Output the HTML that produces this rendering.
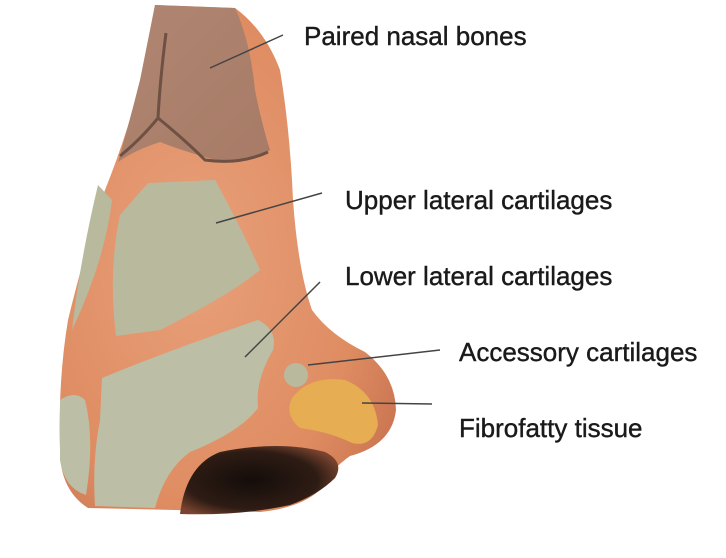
<!DOCTYPE html>
<html><head><style>
html,body{margin:0;padding:0;background:#fff;}
.t{font-family:"Liberation Sans",sans-serif;font-size:26px;fill:#1a1a1a;stroke:#1a1a1a;stroke-width:0.4px;}
</style></head><body>
<svg width="726" height="553" viewBox="0 0 726 553" xmlns="http://www.w3.org/2000/svg">
<defs>
<radialGradient id="sk" cx="0.4" cy="0.5" r="0.7">
<stop offset="0" stop-color="#e8a07a"/><stop offset="0.7" stop-color="#df8c62"/><stop offset="1" stop-color="#c97450"/>
</radialGradient>
<linearGradient id="bn" x1="0" y1="0" x2="1" y2="1">
<stop offset="0" stop-color="#b08672"/><stop offset="1" stop-color="#a77b66"/>
</linearGradient>
<radialGradient id="nos" cx="0.45" cy="0.5" r="0.6">
<stop offset="0" stop-color="#140d0a"/><stop offset="0.7" stop-color="#2e1c14"/><stop offset="1" stop-color="#7a4430"/>
</radialGradient>
</defs>
<path d="M155,5 L235,8 Q265,30 280,70 Q290,130 293,200 Q298,270 312,310 Q330,335 365,352 Q395,375 396,410 Q392,445 350,456 Q330,470 320,490 Q300,508 260,512 L88,508 Q60,490 60,450 Q58,380 68,320 Q85,250 105,190 Q125,140 140,85 Z" fill="url(#sk)"/>
<path d="M155,5 L235,8 Q250,40 255,90 Q262,125 270,150 Q250,165 215,160 Q180,150 160,142 Q135,150 118,162 Q130,120 140,80 Z" fill="url(#bn)"/>
<path d="M166,33 Q160,80 158,118 Q140,140 120,156 M158,118 Q185,140 205,160 Q240,165 268,152" fill="none" stroke="#6e5144" stroke-width="3"/>
<path d="M148,183 L215,180 Q240,225 260,270 Q230,295 160,330 L116,336 Q108,270 120,215 Z" fill="#b9b99e"/>
<path d="M98,185 L112,200 Q105,260 72,330 Q80,260 98,185 Z" fill="#b9b99e"/>
<path d="M102,378 Q170,350 258,320 Q278,330 273,350 Q255,380 258,408 Q240,432 190,452 Q165,470 155,508 L95,506 Q92,460 100,420 Z" fill="#bcbfa6"/>
<path d="M60,400 Q75,390 85,400 Q95,440 86,495 Q64,488 60,460 Z" fill="#bcbfa6"/>
<circle cx="296" cy="375" r="12" fill="#b9b99e"/>
<circle cx="327" cy="398" r="7" fill="#b9b99e"/>
<path d="M292,398 Q310,375 345,380 Q375,392 378,425 Q372,448 352,443 Q330,432 300,428 Q284,415 292,398 Z" fill="#e6ad52"/>
<path d="M180,514 Q186,465 220,452 Q280,440 325,452 Q345,462 335,478 Q318,495 290,505 Q240,516 180,514 Z" fill="url(#nos)"/>
<g stroke="#444" stroke-width="1.5">
<line x1="210" y1="68" x2="283" y2="35"/>
<line x1="216" y1="223" x2="322" y2="193"/>
<line x1="245" y1="357" x2="320" y2="282"/>
<line x1="308" y1="365" x2="440" y2="350"/>
<line x1="362" y1="403" x2="432" y2="404"/>
</g>
<text class="t" x="304" y="45">Paired nasal bones</text>
<text class="t" x="345" y="209">Upper lateral cartilages</text>
<text class="t" x="345" y="285">Lower lateral cartilages</text>
<text class="t" x="459" y="361">Accessory cartilages</text>
<text class="t" x="459" y="437">Fibrofatty tissue</text>
</svg>
</body></html>
